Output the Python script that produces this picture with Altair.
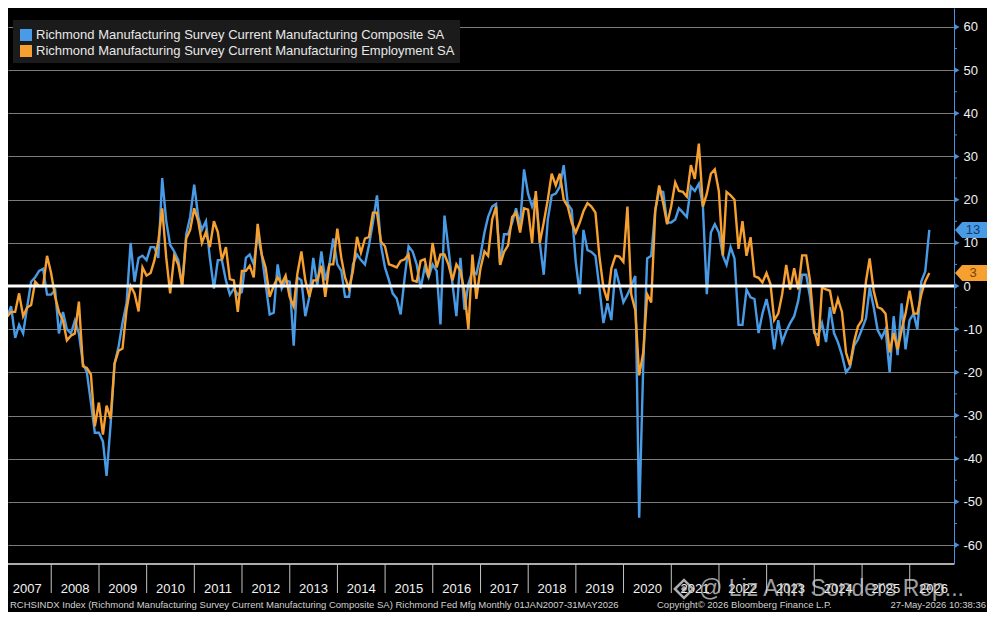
import altair as alt
import pandas as pd

# ---------------- data ----------------
SERIES = [
    "Richmond Manufacturing Survey Current Manufacturing Composite SA",
    "Richmond Manufacturing Survey Current Manufacturing Employment SA",
]

COMPOSITE = [
    -7, -4.7, -12, -9, -11, -5, 1, 2, 3.5, 4, -2, -2,                     # 2007
    -1, -11, -6, -10, -11, -8, -11, -18, -20, -27, -34, -34,              # 2008
    -36, -44, -32, -18, -14, -8.5, -4, 10, 1, 6.5, 7, 6,                  # 2009
    9, 9, 6.5, 25, 15, 9.5, 8, 6, 0, 12, 16, 23.5,                        # 2010
    16, 13, 15, 6.5, -0.6, 6, 6, 1.3, -2, -0.6, -2, -1.4,                 # 2011
    6.5, 7.3, 5, 12, 7.3, 0.5, -6.6, -6.2, 5, -0.6, 1.3, 1,               # 2012
    -13.8, 2, 1.3, -7, -2.5, 6.5, 0, 8, 1.3, 5, 11, 5,                    # 2013
    3.5, -2.5, -2.5, 5, 7.3, 6, 5, 9.5, 14.8, 21, 9.5, 4.3,               # 2014
    1.3, -1.7, -2.9, -6.6, 2, 9.2, 8, 5, -0.6, 4.3, 2, 5,                 # 2015
    3.5, -8.9, 16.3, 8.8, 0.5, -7, 6.5, -5.5, 0.5, 3.5, 2.8, 7,           # 2016
    12.4, 16, 18.4, 19, 4.9, 12, 12, 14.7, 18, 14, 27, 21.4,              # 2017
    18.4, 21, 10, 2.6, 15.4, 21, 21.4, 23, 28, 19, 17.7, 5.6,             # 2018
    -1.9, 13, 8.3, 7.9, 7, -0.4, -8.6, -4, -7.9, 4, 0.4, -3.8,            # 2019
    -2, 0, 2.3, -53.7, -18.4, 6.4, 7, 17.7, 22, 21.8, 14.7, 14.7,         # 2020
    15.4, 18, 17, 16, 23, 22, 23.7, 18.4, -1.9, 12.4, 14.3, 12.4,         # 2021
    7, 4.9, 9, 6.4, -9, -9, -0.8, -2.6, -3, -10.9, -6.4, -3,              # 2022
    -7.5, -14.7, -7.9, -13, -10.5, -8.6, -7, -3.4, 2.6, 2.6, -2.6, -10.9, # 2023
    -11.3, -8.6, -13, -4.9, -10.9, -13, -16, -20, -18.8, -13.9, -12.4, -10,  # 2024
    -7.5, -0.4, -4.9, -10.2, -12, -10, -20, -7, -16, -4, -14.7, -7.9,     # 2025
    -6.4, -10, 1.1, 3.4, 13,                                              # 2026
]

EMPLOYMENT = [
    -7, -6, -6, -1.7, -7, -5, -4.4, 1, 0, 0, 7, 3,                        # 2007
    -2.5, -6, -8, -12.6, -11.5, -11, -3.6, -18.6, -19, -20.5, -32.5, -27, # 2008
    -34.4, -27.7, -30.7, -18, -15, -14.5, -5.5, 0, -1.7, -5.9, 4.3, 2.4,  # 2009
    3, 5.8, 10.3, 18, 6.5, -1.7, 7, 5, 0, 11, 13, 18,                     # 2010
    15, 10, 12.5, 9, 15, 12.5, 6, 9, 1.6, 1.3, -6, 3.5,                   # 2011
    3.5, 4.7, 2, 14.4, 7.3, 4.3, -2.5, 0, 2, 0.5, 2.4, -2.5,              # 2012
    -4.7, 2.8, 8, 1.3, -2.5, 1.3, 1.3, 4.7, -2.5, 5, 5, 13.3,             # 2013
    6.5, 2, -0.6, 3.5, 11.4, 7.7, 11, 11.4, 17, 17, 10.3, 9.2,            # 2014
    5, 4.7, 4.3, 5.8, 6.2, 7.3, 1.3, 1, 5.8, 6.2, 2, 10,                  # 2015
    4.3, 7.3, 7.3, 5, 1.3, 5, 3.5, -1.4, -10, 7.3, -3, 4,                 # 2016
    8, 7, 15.4, 18.4, 4.9, 7.9, 9.4, 16, 17, 12.4, 18, 17.7,              # 2017
    10, 22, 10, 14.7, 20, 26, 23.3, 26, 20, 18.4, 14.7, 12.4,             # 2018
    14.7, 17.3, 19.2, 18.4, 17, 7, -0.4, -3.4, 4.1, 7, 6.8, 5.6,          # 2019
    18.4, -1.9, -5.6, -20.7, -15.4, -1.9, -3.8, 17.3, 23.3, 19.2, 14.3, 18.4,  # 2020
    24, 22, 21.8, 20.7, 28, 24.8, 33, 18.4, 21.4, 26, 27, 22,             # 2021
    7.1, 21.8, 21, 20, 8.6, 15, 7, 11.3, 2.3, 1.9, 0.8, 3,                # 2022
    0.4, -7.9, -6.4, -1.9, 4.9, -0.8, 4.1, -0.8, 7.1, 7.1, 1.1, -10.2,    # 2023
    -13.9, -0.4, -0.8, -1.1, -6.4, -3, -6, -15.4, -18.4, -13, -9.4, -7.9, # 2024
    1.1, 6.4, -1.1, -4.9, -5.3, -6.4, -15.4, -10.9, -14.7, -10.2, -6.4, -1.1,  # 2025
    -6.4, -6.4, -1.9, 1.1, 3,                                             # 2026
]

YEARS = list(range(2007, 2027))
Y_TICKS = list(range(-60, 61, 10))
Y_MINOR = list(range(-55, 60, 10))

FOOTER_LEFT = ("RCHSINDX Index (Richmond Manufacturing Survey Current Manufacturing "
               "Composite SA) Richmond Fed Mfg Monthly 01JAN2007-31MAY2026")
FOOTER_MID = "Copyright\u00a9 2026 Bloomberg Finance L.P."
FOOTER_RIGHT = "27-May-2026 10:38:36"
WATERMARK = "@ Liz Ann Sonders Rep..."

# ---------------- styles ----------------
BLUE = "#4a9be6"
ORANGE = "#f5a030"
AXIS_BLUE = "#4f8fdc"
FONT = "Liberation Sans"
W, H = 946, 556

# ---------------- tables ----------------
n = min(len(COMPOSITE), len(EMPLOYMENT))
dates = pd.date_range("2007-01-01", periods=n, freq="MS") + pd.offsets.MonthEnd(0)
dstr = [d.strftime("%Y-%m-%d") for d in dates]
df_c = pd.DataFrame({"date": dstr, "series": SERIES[0], "value": COMPOSITE[:n]})
df_e = pd.DataFrame({"date": dstr, "series": SERIES[1], "value": EMPLOYMENT[:n]})

tags = pd.DataFrame({
    "series": SERIES,
    "value": [COMPOSITE[n - 1], EMPLOYMENT[n - 1]],
    "label": [str(int(round(COMPOSITE[n - 1]))), str(int(round(EMPLOYMENT[n - 1])))],
})

years_df = pd.DataFrame({"date": [f"{y}-07-02" for y in YEARS], "label": [str(y) for y in YEARS]})
div_df = pd.DataFrame({"date": [f"{y}-01-01" for y in YEARS[1:]]})
one = pd.DataFrame({"a": [0]})

# ---------------- encodings ----------------
x_scale = alt.Scale(domain=[alt.DateTime(year=2007, month=2, date=4),
                            alt.DateTime(year=2026, month=12, date=6)])
X = alt.X("date:T", scale=x_scale, axis=None)
y_scale = alt.Scale(domain=[-64.4, 64.4], nice=False, zero=False)
y_axis = alt.Axis(orient="right", values=Y_TICKS, labelExpr="toString(datum.value)",
                  ticks=False, domainColor=AXIS_BLUE, domainWidth=1, grid=True,
                  gridColor="#7c7c7c", gridWidth=1, labelColor="#f0f0f0",
                  labelFont=FONT, labelFontSize=13, labelPadding=9, title=None, zindex=0)
Y = alt.Y("value:Q", scale=y_scale, axis=y_axis)
C = alt.Color("series:N", scale=alt.Scale(domain=SERIES, range=[BLUE, ORANGE]), legend=None)

line_c = alt.Chart(df_c).mark_line(strokeWidth=2.4, clip=True).encode(x=X, y=Y, color=C)
line_e = alt.Chart(df_e).mark_line(strokeWidth=2.4, clip=True).encode(x=X, y=Y, color=C)

zero = alt.Chart(pd.DataFrame({"value": [0]})).mark_rule(color="#ffffff", strokeWidth=3).encode(y=Y)

tri = alt.Chart(pd.DataFrame({"value": Y_TICKS})).mark_point(
    shape="triangle-right", filled=True, size=34, color=AXIS_BLUE, opacity=1
).encode(x=alt.value(W + 3), y=Y)
minor = alt.Chart(pd.DataFrame({"value": Y_MINOR})).mark_rule(color=AXIS_BLUE).encode(
    x=alt.value(W), x2=alt.value(W + 3), y=Y)

TAG_PATH = "M -1 0 L -0.55 -0.5 L 1 -0.5 L 1 0.5 L -0.55 0.5 Z"
tag_box = alt.Chart(tags).mark_point(shape=TAG_PATH, filled=True, size=1024, opacity=1,
                                     strokeWidth=0).encode(x=alt.value(W + 17), y=Y, color=C)
tag_txt_c = alt.Chart(tags).transform_filter(alt.datum.series == SERIES[0]).mark_text(
    font=FONT, fontSize=13, color="#123a6b", align="center", baseline="middle"
).encode(x=alt.value(W + 19), y=Y, text="label:N")
tag_txt_e = alt.Chart(tags).transform_filter(alt.datum.series == SERIES[1]).mark_text(
    font=FONT, fontSize=13, color="#7a3f00", align="center", baseline="middle"
).encode(x=alt.value(W + 19), y=Y, text="label:N")

bottom_line = alt.Chart(one).mark_rule(color="#e6e6e6", strokeWidth=1.5).encode(
    x=alt.value(0), x2=alt.value(W), y=alt.value(H))
dividers = alt.Chart(div_df).mark_rule(color="#c4c4c4", strokeWidth=1).encode(
    x=X, y=alt.value(H), y2=alt.value(H + 29))
year_lbl = alt.Chart(years_df).mark_text(
    font=FONT, fontSize=13, color="#f2f2f2", align="center", baseline="middle"
).encode(x=X, y=alt.value(H + 25), text="label:N")

foot_l = alt.Chart(one).mark_text(font=FONT, fontSize=9.5, color="#d0d0d0", align="left",
                                  baseline="middle", text=FOOTER_LEFT).encode(
    x=alt.value(2), y=alt.value(H + 41))
foot_m = alt.Chart(one).mark_text(font=FONT, fontSize=9.5, color="#d0d0d0", align="left",
                                  baseline="middle", text=FOOTER_MID).encode(
    x=alt.value(649), y=alt.value(H + 41))
foot_r = alt.Chart(one).mark_text(font=FONT, fontSize=9.5, color="#d0d0d0", align="right",
                                  baseline="middle", text=FOOTER_RIGHT).encode(
    x=alt.value(W + 32), y=alt.value(H + 41))

wm_logo = alt.Chart(one).mark_point(shape="diamond", filled=False, size=330, color="#d8d8d8",
                                    strokeWidth=2.5, opacity=0.8).encode(
    x=alt.value(676), y=alt.value(H + 25))
wm_logo2 = alt.Chart(one).mark_point(shape="diamond", filled=True, size=40, color="#d8d8d8",
                                     opacity=0.8).encode(x=alt.value(676), y=alt.value(H + 25))
wm_text = alt.Chart(one).mark_text(font=FONT, fontSize=23, color="#dcdcdc", opacity=0.72,
                                   align="left", baseline="middle", text=WATERMARK).encode(
    x=alt.value(691), y=alt.value(H + 25))

leg_box = alt.Chart(one).mark_rect(color="#1b1b1b").encode(
    x=alt.value(5), x2=alt.value(452), y=alt.value(12), y2=alt.value(55))
leg_sq1 = alt.Chart(one).mark_rect(color=BLUE).encode(
    x=alt.value(12), x2=alt.value(24), y=alt.value(21), y2=alt.value(33))
leg_sq2 = alt.Chart(one).mark_rect(color=ORANGE).encode(
    x=alt.value(12), x2=alt.value(24), y=alt.value(37), y2=alt.value(49))
leg_t1 = alt.Chart(one).mark_text(font=FONT, fontSize=13, color="#e8e8e8", align="left",
                                  baseline="middle", text=SERIES[0]).encode(
    x=alt.value(28), y=alt.value(27))
leg_t2 = alt.Chart(one).mark_text(font=FONT, fontSize=13, color="#e8e8e8", align="left",
                                  baseline="middle", text=SERIES[1]).encode(
    x=alt.value(28), y=alt.value(43))

chart = alt.layer(
    line_c, line_e, zero, minor, tri, tag_box, tag_txt_c, tag_txt_e,
    bottom_line, dividers, year_lbl, foot_l, foot_m, foot_r,
    wm_logo, wm_logo2, wm_text,
    leg_box, leg_sq1, leg_sq2, leg_t1, leg_t2,
).properties(
    width=W, height=H,
    autosize=alt.AutoSizeParams(type="none"),
    padding={"left": 0, "top": 0, "right": 33, "bottom": 48},
    background="#000000",
).configure_view(strokeWidth=0)

chart.save("out.html", embed_options={"renderer": "svg", "actions": False})
